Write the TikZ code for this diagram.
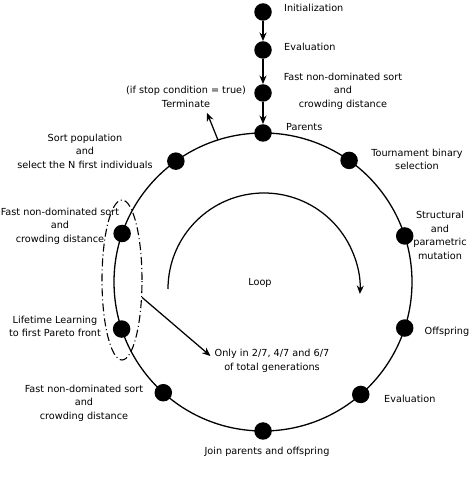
\documentclass[tikz,border=0pt]{standalone}
\usepackage{fontspec}
\setmainfont{DejaVu Sans}
\usetikzlibrary{arrows.meta,calc,shapes.geometric}
\begin{document}
\begin{tikzpicture}[x=1pt,y=1pt,
  dot/.style={circle,fill=black,minimum size=17.5pt,inner sep=0pt},
  lbl/.style={font=\fontsize{9.7}{13.6}\selectfont,align=center,inner sep=1pt},
  arr/.style={-{Stealth[length=8.5pt,width=7pt]},line width=1.25pt},
  ring/.style={line width=1.3pt}]
\useasboundingbox (0,0) rectangle (474,481);
\coordinate (C) at (263,199);
\draw[ring] (C) circle[radius=149pt];
% top column
\node[dot] (init) at (263,469) {};
\node[dot] (eval0) at (263,431) {};
\node[dot] (fast0) at (263,388) {};
% ring dots
\node[dot] (parents) at ($(C)+(90:149pt)$) {};
\node[dot] (tourn) at ($(C)+(54.7:149pt)$) {};
\node[dot] (struct) at ($(C)+(18:149pt)$) {};
\node[dot] (offs) at ($(C)+(-18:149pt)$) {};
\node[dot] (eval1) at ($(C)+(-49:149pt)$) {};
\node[dot] (join) at ($(C)+(-90:149pt)$) {};
\node[dot] (fastbl) at ($(C)+(-132:149pt)$) {};
\node[dot] (life) at ($(C)+(198.4:149pt)$) {};
\node[dot] (fastl) at ($(C)+(161:149pt)$) {};
\node[dot] (sortp) at ($(C)+(125.8:149pt)$) {};
\coordinate (termstart) at ($(C)+(107.6:149pt)$);
% arrows top
\draw[arr] (init) -- (eval0);
\draw[arr] (eval0) -- (fast0);
\draw[arr] (fast0) -- (parents);
% labels
\node[lbl,anchor=west] (tinit) at (283,473.5) {Initialization};
\node[lbl,anchor=west] (teval0) at (283,434) {Evaluation};
\node[lbl] (tfast0) at (343,390) {Fast non-dominated sort\\and\\crowding distance};
\node[lbl] (tterm) at (186,384) {(if stop condition = true)\\Terminate};
\node[lbl,anchor=west] (tparents) at (285,354) {Parents};
\node[lbl] (tsort) at (85,330) {Sort population\\and\\select the N first individuals};
\node[lbl] (tfastl) at (60,255) {Fast non-dominated sort\\and\\crowding distance};
\node[lbl] (tlife) at (55,154.5) {Lifetime Learning\\to first Pareto front};
\node[lbl] (tfastbl) at (84,78) {Fast non-dominated sort\\and\\crowding distance};
\node[lbl] (tjoin) at (267,29) {Join parents and offspring};
\node[lbl,anchor=west] (teval1) at (383,82) {Evaluation};
\node[lbl] (toffs) at (447,149) {Offspring};
\node[lbl] (tstruct) at (440,245.5) {Structural\\and\\parametric\\mutation};
\node[lbl] (ttourn) at (417,321.5) {Tournament binary\\selection};
\node[lbl] (tloop) at (260,198) {Loop};
\node[lbl] (tonly) at (272,120) {Only in 2/7, 4/7 and 6/7\\of total generations};
% terminate arrow
\draw[arr] (termstart) -- ($(tterm.south)+(21,-4)$);
% loop arc
\coordinate (L) at (264,192);
\draw[arr] ($(L)+(180:96pt)$) arc[start angle=180,end angle=-3,radius=96pt];
% dash-dot ellipse
\node[ellipse,draw,line width=1.1pt,dash pattern=on 8pt off 3pt on 1pt off 3pt,minimum width=40pt,minimum height=160pt,inner sep=0pt] (ell) at (122,201) {};
\draw[arr] (ell.-41) -- ([xshift=-3pt,yshift=5pt]tonly.west);
\end{tikzpicture}
\end{document}
